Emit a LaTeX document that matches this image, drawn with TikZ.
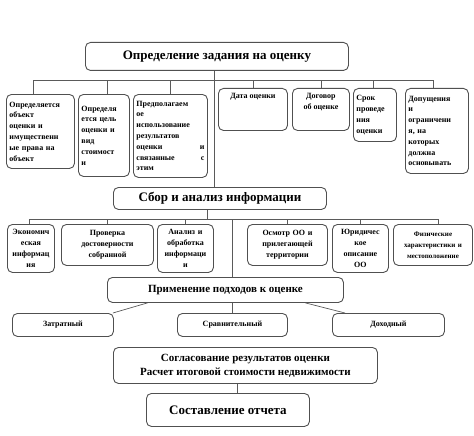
\documentclass[tikz,border=0pt]{standalone}
\usepackage{fontspec}
\setmainfont{Liberation Serif}
\usetikzlibrary{calc}
\definecolor{boxgray}{HTML}{505050}
\definecolor{linegray}{HTML}{5A5A5A}

\begin{document}
\begin{tikzpicture}[x=1pt, y=-1pt,
  blk/.style={draw=boxgray, line width=0.9pt, rounded corners=5pt, inner sep=3pt,
    anchor=north west, font=\fontsize{8}{10.8}\selectfont\bfseries},
  head/.style={blk, align=center, font=\fontsize{13}{15}\selectfont\bfseries},
  link/.style={draw=linegray, line width=0.7pt}]
  \useasboundingbox (0,0) rectangle (474,436);

  % Task definition
  \node[head, minimum width=263pt, minimum height=28pt] (top) at (85,42) {Определение задания на оценку};
  \node[blk, minimum width=68pt, minimum height=74pt, text width=62pt, align=left] (obj) at (6,94)
    {Определяется\\объект\\оценки и\\имущественн\\ые права на\\объект};
  \node[blk, minimum width=51pt, minimum height=82pt, text width=45pt, align=left] (goal) at (78,94)
    {Определя\\ется цель\\оценки и\\вид\\стоимост\\и};
  \node[blk, minimum width=74pt, minimum height=83pt, text width=68pt, align=left] (use) at (133,94)
    {Предполагаем\\ое\\использование\\результатов\\оценки \hfill и\\связанные \hfill с\\этим};
  \node[blk] (date) at (218,88) {\parbox[c][36pt][t]{63pt}{\vspace{2pt}\centering Дата оценки}};
  \node[blk] (contract) at (292,88) {\parbox[c][36pt][t]{51pt}{\vspace{2pt}\centering Договор\\об оценке}};
  \node[blk, minimum width=43pt, minimum height=53pt, text width=37pt, align=left] (term) at (353,88)
    {Срок\\проведе\\ния\\оценки};
  \node[blk, minimum width=63pt, minimum height=85pt, text width=57pt, align=left] (assume) at (405,88)
    {Допущения\\и\\ограничени\\я, на\\которых\\должна\\основывать};

  % Information
  \node[head, minimum width=213pt, minimum height=22pt] (collect) at (113,187) {Сбор и анализ информации};
  \node[blk, minimum width=47pt, minimum height=48pt, text width=41pt, align=center] (econ) at (7,224)
    {Экономич\\еская\\информац\\ия};
  \node[blk, minimum width=92pt, minimum height=41pt, text width=86pt, align=center] (check) at (61,224)
    {Проверка\\достоверности\\собранной};
  \node[blk, minimum width=56pt, minimum height=48pt, text width=50pt, align=center] (analysis) at (157,224)
    {Анализ и\\обработка\\информаци\\и};
  \node[blk, minimum width=80pt, minimum height=41pt, text width=74pt, align=center] (inspect) at (247,224)
    {Осмотр ОО и\\прилегающей\\территории};
  \node[blk, minimum width=56pt, minimum height=48pt, text width=50pt, align=center] (legal) at (332,224)
    {Юридичес\\кое\\описание\\ОО};
  \node[blk, minimum width=79pt, minimum height=41pt, text width=73pt, align=center,
    font=\fontsize{7}{10.8}\selectfont\bfseries] (phys) at (393,224)
    {Физические\\характеристики и\\местоположение};

  % Approaches
  \node[head, minimum width=236pt, minimum height=25pt, font=\fontsize{11}{13}\selectfont\bfseries] (apply) at (107,277)
    {Применение подходов к оценке};
  \node[blk, minimum width=101pt, minimum height=23pt] (cost) at (12,313) {Затратный};
  \node[blk, minimum width=110pt, minimum height=23pt] (compare) at (177,313) {Сравнительный};
  \node[blk, minimum width=112pt, minimum height=23pt] (income) at (332,313) {Доходный};

  % Result
  \node[head, minimum width=264pt, minimum height=36pt, font=\fontsize{11}{14}\selectfont\bfseries] (agree) at (113,347)
    {Согласование результатов оценки\\Расчет итоговой стоимости недвижимости};
  \node[head, minimum width=163pt, minimum height=33pt] (report) at (146,393) {Составление отчета};

  % Links, first level
  \coordinate (busA) at (214,80);
  \draw[link] (top.south -| busA) -- (collect.north -| busA);
  \draw[link] ([xshift=-7pt]obj.north |- busA) -- ([xshift=-4pt]assume.north |- busA);
  \draw[link] ([xshift=-7pt]obj.north) -- ([xshift=-7pt]obj.north |- busA);
  \draw[link] ([xshift=3pt]goal.north) -- ([xshift=3pt]goal.north |- busA);
  \draw[link] (use.north) -- (use.north |- busA);
  \draw[link] (date.north) -- (date.north |- busA);
  \draw[link] (contract.north) -- (contract.north |- busA);
  \draw[link] ([xshift=-2pt]term.north) -- ([xshift=-2pt]term.north |- busA);
  \draw[link] ([xshift=-4pt]assume.north) -- ([xshift=-4pt]assume.north |- busA);

  % Links, information
  \coordinate (busB) at (207,219);
  \coordinate (trunkB) at (232,219);
  \draw[link] (collect.south -| busB) -- (busB);
  \draw[link] ([xshift=-2pt]econ.north |- busB) -- ([xshift=5pt]phys.north |- busB);
  \draw[link] ([xshift=-2pt]econ.north) -- ([xshift=-2pt]econ.north |- busB);
  \draw[link] (check.north) -- (check.north |- busB);
  \draw[link] (analysis.north) -- (analysis.north |- busB);
  \draw[link] (inspect.north) -- (inspect.north |- busB);
  \draw[link] (legal.north) -- (legal.north |- busB);
  \draw[link] ([xshift=5pt]phys.north) -- ([xshift=5pt]phys.north |- busB);
  \draw[link] (trunkB) -- (apply.north -| trunkB);

  % Links, approaches and result
  \draw[link] ([xshift=-1pt]cost.north east) -- ($(apply.south)+(-78,0)$);
  \draw[link] (compare.north) -- (apply.south -| compare.north);
  \draw[link] ($(income.north west)+(13,0)$) -- ($(apply.south)+(80,0)$);
  \draw[link] ($(apply.south)+(-67,0)$) -- ($(apply.south)+(-67,0)$ |- agree.north);
  \coordinate (trunkC) at (237,383);
  \draw[link] (agree.south -| trunkC) -- (report.north -| trunkC);
\end{tikzpicture}
\end{document}
